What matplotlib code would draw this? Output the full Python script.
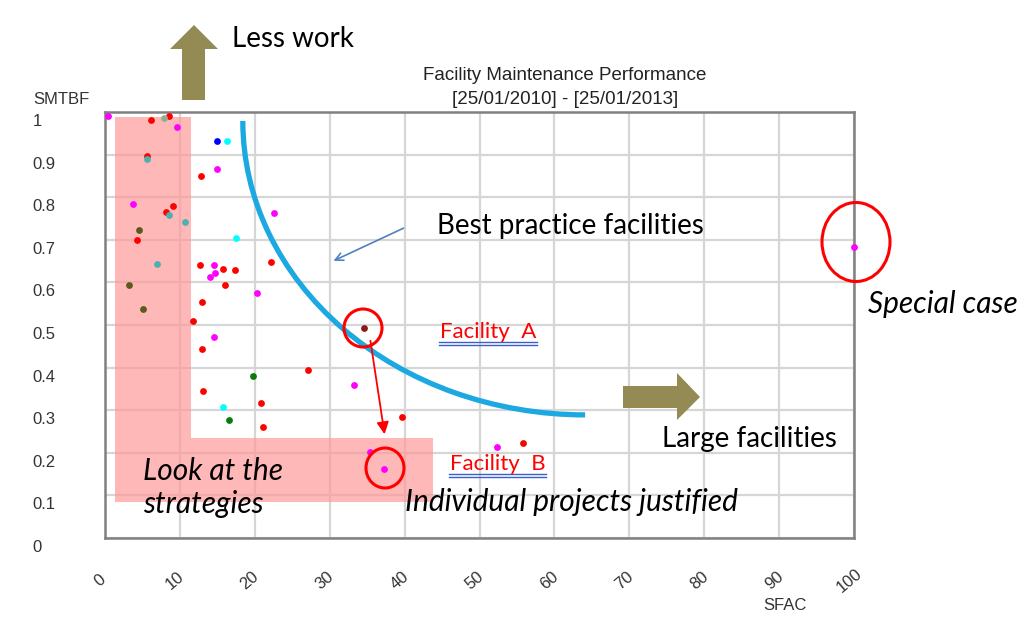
import numpy as np
import matplotlib
matplotlib.use("Agg")
import matplotlib.pyplot as plt
from matplotlib.patches import Polygon, Ellipse, Arc, FancyArrowPatch
from matplotlib.lines import Line2D
from matplotlib.transforms import Affine2D, ScaledTranslation

plt.rcParams['font.family'] = ['Liberation Sans', 'DejaVu Sans']

# ---- data (SFAC, SMTBF) grouped by marker colour ----
red_x = [6.2, 8.6, 5.65, 12.8, 9.1, 8.2, 4.3, 12.7, 15.8, 17.3, 16.0, 12.9, 22.1,
         11.8, 12.9, 13.1, 20.8, 21.1, 27.1, 39.6, 55.8]
red_y = [0.981, 0.991, 0.897, 0.849, 0.780, 0.765, 0.700, 0.641, 0.631, 0.628, 0.593,
         0.555, 0.648, 0.509, 0.444, 0.346, 0.318, 0.260, 0.395, 0.284, 0.223]
magenta_x = [0.4, 9.65, 14.9, 3.78, 14.5, 14.7, 14.0, 20.3, 22.5, 14.5, 33.2, 35.4,
             37.2, 52.3, 100.0]
magenta_y = [0.99, 0.964, 0.866, 0.784, 0.640, 0.621, 0.613, 0.574, 0.762, 0.471,
             0.360, 0.203, 0.162, 0.213, 0.682]
cyan_x = [16.3, 17.5, 15.7]
cyan_y = [0.932, 0.705, 0.307]
teal_x = [5.65, 8.5, 10.7, 7.0]
teal_y = [0.889, 0.759, 0.742, 0.644]
olive_x = [4.6, 3.2, 5.1]
olive_y = [0.723, 0.595, 0.538]
green_x = [19.7, 16.5]
green_y = [0.380, 0.278]
blue_x = [14.9]
blue_y = [0.932]
grey_x = [7.9]
grey_y = [0.986]
darkred_x = [34.6]
darkred_y = [0.492]

x_ticks = [0, 10, 20, 30, 40, 50, 60, 70, 80, 90, 100]
y_ticks = [0, 0.1, 0.2, 0.3, 0.4, 0.5, 0.6, 0.7, 0.8, 0.9, 1]
y_labels = ['0', '0.1', '0.2', '0.3', '0.4', '0.5', '0.6', '0.7', '0.8', '0.9', '1']

W, H = 1035, 621
fig = plt.figure(figsize=(W / 100, H / 100), dpi=100)
fig.patch.set_facecolor('white')
ax = fig.add_axes([105 / W, 1 - 538 / H, (854 - 105) / W, (538 - 112) / H])

# pixel transform (origin top-left, like the picture)
px = Affine2D().scale(1 / W, -1 / H).translate(0, 1) + fig.transFigure

ax.set_xlim(0, 100)
ax.set_ylim(0, 1)
ax.set_xticks(x_ticks)
ax.set_yticks(y_ticks)
ax.set_yticklabels(y_labels)
ax.grid(True, color='#D6D6D6', lw=1.6)
ax.set_axisbelow(True)
for s in ax.spines.values():
    s.set_color('#808080')
    s.set_linewidth(1.8)
ax.tick_params(axis='both', length=0, labelsize=12, labelcolor='#333333')
ax.tick_params(axis='y', pad=52)
ax.tick_params(axis='x', pad=31, labelrotation=40)
off_y = ScaledTranslation(0, -0.08, fig.dpi_scale_trans)
off_x = ScaledTranslation(-0.05, 0, fig.dpi_scale_trans)
for lab in ax.get_yticklabels():
    lab.set_ha('left')
    lab.set_transform(lab.get_transform() + off_y)
for lab in ax.get_xticklabels():
    lab.set_va('center')
    lab.set_transform(lab.get_transform() + off_x)

# pink "look at the strategies" zone
ax.add_patch(Polygon([(115, 117), (191, 117), (191, 438), (433, 438), (433, 502), (115, 502)],
                     closed=True, transform=px, facecolor='#FF9A9A', alpha=0.7,
                     edgecolor='none', zorder=1.5))

ms = 24
ax.scatter(red_x, red_y, s=ms, color='#FF0000', zorder=3, lw=0)
ax.scatter(magenta_x, magenta_y, s=ms, color='#FF00FF', zorder=3, lw=0, clip_on=False)
ax.scatter(cyan_x, cyan_y, s=ms, color='#00FFFF', zorder=3, lw=0)
ax.scatter(teal_x, teal_y, s=ms, color='#4DB0B0', zorder=3, lw=0)
ax.scatter(olive_x, olive_y, s=ms, color='#5A5A1C', zorder=3, lw=0)
ax.scatter(green_x, green_y, s=ms, color='#0B7A0B', zorder=3, lw=0)
ax.scatter(blue_x, blue_y, s=ms, color='#0000FF', zorder=3, lw=0)
ax.scatter(grey_x, grey_y, s=ms, color='#8FB08F', zorder=3, lw=0)
ax.scatter(darkred_x, darkred_y, s=ms, color='#8B1A1A', zorder=3, lw=0)

# best practice frontier
ax.add_patch(Arc((64.1, 0.979), 91.4, 1.38, theta1=180, theta2=270,
                 color='#1CA9E1', lw=3.8, zorder=2.5))

# titles and axis names
fig.text(565 / W, 1 - 75 / H, 'Facility Maintenance Performance', ha='center', va='center',
         fontsize=13.5, color='#222222')
fig.text(565 / W, 1 - 99 / H, '[25/01/2010] - [25/01/2013]', ha='center', va='center',
         fontsize=13.5, color='#222222')
fig.text(33 / W, 1 - 99 / H, 'SMTBF', ha='left', va='center', fontsize=12, color='#333333')
fig.text(785 / W, 1 - 605 / H, 'SFAC', ha='center', va='center', fontsize=12, color='#333333')

# olive arrows
olive = '#948A54'
fig.add_artist(Polygon([(182, 100), (205, 100), (205, 49), (218, 49), (194, 25), (170, 49), (182, 49)],
                       closed=True, transform=px, facecolor=olive, edgecolor='none'))
fig.add_artist(Polygon([(623, 386), (677, 386), (677, 373), (700, 397), (677, 420), (677, 408), (623, 408)],
                       closed=True, transform=px, facecolor=olive, edgecolor='none'))

# red circles and arrow
for cx, cy, w, h in [(363, 328, 38, 38), (385, 468, 38, 40), (856, 242, 68, 79)]:
    fig.add_artist(Ellipse((cx, cy), w, h, transform=px, fill=False, edgecolor='#FF0000', lw=2.2))
fig.add_artist(FancyArrowPatch((370, 338), (385, 437), transform=px, arrowstyle='-|>',
                               mutation_scale=18, color='#FF0000', lw=1.3))
fig.add_artist(FancyArrowPatch((406, 227), (331, 262), transform=px, arrowstyle='->',
                               mutation_scale=14, color='#4F81BD', lw=1.2))

# annotation texts
tf = ['Lato', 'DejaVu Sans']
def note(x, y, s, size=20, style='normal', color='black'):
    fig.text(x / W, 1 - y / H, s, ha='left', va='baseline', fontsize=size,
             style=style, color=color, family=tf)

note(232, 47, 'Less work')
note(437, 234, 'Best practice facilities')
note(662, 447, 'Large facilities')
note(868, 313, 'Special case', size=21.5, style='italic')
note(143, 480, 'Look at the', size=21.5, style='italic')
note(143, 513, 'strategies', size=21.5, style='italic')
note(405, 511, 'Individual projects justified', size=21.5, style='italic')
note(440, 338, 'Facility  A', size=16, color='#FF0000')
note(450, 470, 'Facility  B', size=16, color='#FF0000')
for x0, x1, y in [(439, 537, 341.5), (439, 537, 344.5), (449, 546, 474), (449, 546, 477)]:
    fig.add_artist(Line2D([x0, x1], [y, y], transform=px, color='#3A5FCD', lw=1))

fig.savefig('out.png', dpi=100, facecolor='white')
